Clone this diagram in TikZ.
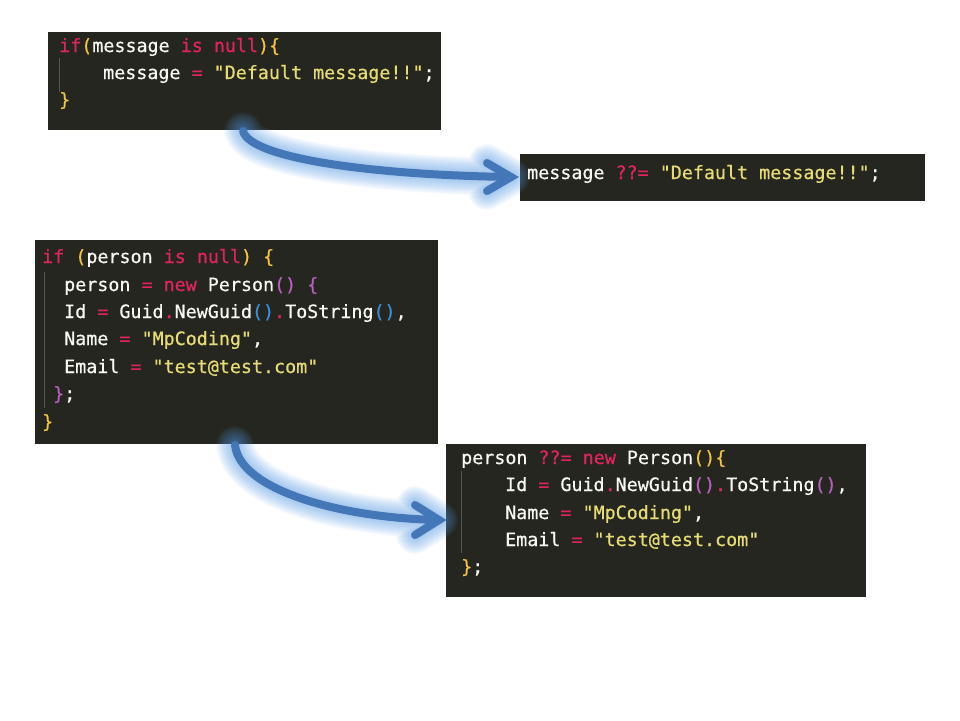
\documentclass[tikz,border=0pt]{standalone}
\usepackage{fontspec}
\newfontfamily\codefont[RawFeature={embolden=0.6}]{DejaVu Sans Mono}
\definecolor{codebg}{HTML}{252620}
\definecolor{codewhite}{HTML}{F8F8F2}
\definecolor{codepink}{HTML}{E0245E}
\definecolor{codeyellow}{HTML}{F5C542}
\definecolor{codestring}{HTML}{E6DB74}
\definecolor{codepurple}{HTML}{B85FC0}
\definecolor{codeblue}{HTML}{3A8FD6}
\definecolor{codeguide}{HTML}{55564F}
\definecolor{arrowblue}{HTML}{4477B8}
\definecolor{glowblue}{HTML}{5A9FF0}
\newcommand{\PINK}[1]{\textcolor{codepink}{#1}}
\newcommand{\YELLOW}[1]{\textcolor{codeyellow}{#1}}
\newcommand{\STR}[1]{\textcolor{codestring}{#1}}
\newcommand{\PURPLE}[1]{\textcolor{codepurple}{#1}}
\newcommand{\BLUE}[1]{\textcolor{codeblue}{#1}}
\tikzset{
  codebox/.style={fill=codebg, draw=none, inner sep=0pt, anchor=north west},
  codeline/.style={anchor=base west, inner sep=0pt, text=codewhite,
    font=\codefont\fontsize{18.35pt}{20pt}\selectfont},
  guide/.style={draw=codeguide, line width=1pt},
  glow/.style={draw=glowblue, opacity=0.045, line cap=round, line join=round},
  curved/.style={draw=arrowblue, line width=8pt, line cap=round, miter limit=10}
}
\begin{document}
\begin{tikzpicture}[x=1pt,y=-1pt]
  \useasboundingbox[fill=white] (0,0) rectangle (960,720);

  \node[codebox, minimum width=393pt, minimum height=98pt]  (ifmessage) at (48,32)   {};
  \node[codebox, minimum width=405pt, minimum height=47pt]  (newmessage) at (520,154) {};
  \node[codebox, minimum width=403pt, minimum height=204pt] (ifperson) at (35,240)   {};
  \node[codebox, minimum width=420pt, minimum height=153pt] (newperson) at (446,444) {};

  \coordinate (msgfrom) at (243,131);
  \coordinate (msgto) at (511,177);
  \coordinate (perfrom) at (235,445);
  \coordinate (perto) at (439,520);

  % halo round both arrows
  \foreach \glowwidth in {38,36,...,10} {
    \path[glow, line width=\glowwidth pt] (msgfrom)
    .. controls (250,158) and (370,175) .. (msgto)
    +(-24,-14) -- (msgto) -- +(-24,14);
    \path[glow, line width=\glowwidth pt] (perfrom)
    .. controls (240,490) and (340,518) .. (perto)
    +(-24,-15) -- (perto) -- +(-24,15);
  }
  \draw[curved] (msgfrom) .. controls (250,158) and (370,175) .. (msgto);
  \draw[curved] (msgto) +(-24,-14) -- (msgto) -- +(-24,14);
  \draw[curved] (perfrom) .. controls (240,490) and (340,518) .. (perto);
  \draw[curved] (perto) +(-24,-15) -- (perto) -- +(-24,15);

  % first pair
  \draw[guide] (59,58) -- (59,92);
  \node[codeline] (msgif) at (59,52) {\PINK{if}\YELLOW{(}message \PINK{is} \PINK{null}\YELLOW{)\{}};
  \node[codeline] (msgset) at (103,79) {message \PINK{=} \STR{"Default message!!"};};
  \node[codeline] (msgend) at (59,106) {\YELLOW{\}}};
  \node[codeline] (msgnew) at (527,179) {message \PINK{??=} \STR{"Default message!!"};};

  % second pair
  \draw[guide] (44,272) -- (44,408);
  \node[codeline] (perif) at (42,263) {\PINK{if} \YELLOW{(}person \PINK{is} \PINK{null}\YELLOW{)} \YELLOW{\{}};
  \node[codeline] (perset) at (64,291) {person \PINK{=} \PINK{new} Person\PURPLE{()} \PURPLE{\{}};
  \node[codeline] (perid) at (64,318) {Id \PINK{=} Guid\PINK{.}NewGuid\BLUE{()}\PINK{.}ToString\BLUE{()},};
  \node[codeline] (pername) at (64,345) {Name \PINK{=} \STR{"MpCoding"},};
  \node[codeline] (permail) at (64,373) {Email \PINK{=} \STR{"test@test.com"}};
  \node[codeline] (perclose) at (53,400) {\PURPLE{\}};};
  \node[codeline] (perend) at (42,428) {\YELLOW{\}}};

  \draw[guide] (461,471) -- (461,553);
  \node[codeline] (newper) at (461,464) {person \PINK{??=} \PINK{new} Person\YELLOW{()\{}};
  \node[codeline] (newid) at (505,491) {Id \PINK{=} Guid\PINK{.}NewGuid\PURPLE{()}\PINK{.}ToString\PURPLE{()},};
  \node[codeline] (newname) at (505,519) {Name \PINK{=} \STR{"MpCoding"},};
  \node[codeline] (newmail) at (505,546) {Email \PINK{=} \STR{"test@test.com"}};
  \node[codeline] (newend) at (461,573) {\YELLOW{\}};};
\end{tikzpicture}
\end{document}
